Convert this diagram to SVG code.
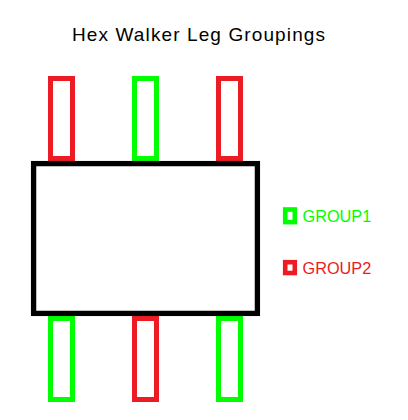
<svg xmlns="http://www.w3.org/2000/svg" width="408" height="420" viewBox="0 0 408 420">
<style>
.g{fill:none;stroke:#00FF00;stroke-width:5}
.r{fill:none;stroke:#ED1C24;stroke-width:5}
.body{fill:#fff;stroke:#000;stroke-width:5.3}
.t{font-family:"Liberation Sans",Arial,sans-serif}
</style>
<rect width="408" height="420" fill="#fff"/>
<text class="t" x="198.5" y="41" font-size="19" text-anchor="middle" fill="#000" textLength="253" lengthAdjust="spacing">Hex Walker Leg Groupings</text>
<g id="leg-top-left"><rect class="r" x="50.5" y="78.5" width="22" height="80"/></g>
<g id="leg-top-mid"><rect class="g" x="134.5" y="78.5" width="22" height="80"/></g>
<g id="leg-top-right"><rect class="r" x="218.5" y="78.5" width="22" height="80"/></g>
<g id="leg-bot-left"><rect class="g" x="50.5" y="318.5" width="22" height="81"/></g>
<g id="leg-bot-mid"><rect class="r" x="134.5" y="318.5" width="22" height="81"/></g>
<g id="leg-bot-right"><rect class="g" x="218.5" y="318.5" width="22" height="81"/></g>
<g id="body"><rect class="body" x="33.6" y="163.6" width="223.8" height="149.8"/></g>
<g id="legend-group1">
<rect x="285.2" y="209.5" width="9.6" height="12.6" fill="none" stroke="#00FF00" stroke-width="4.6"/>
<text class="t" x="302.5" y="222" font-size="16.3" fill="#00FF00">GROUP1</text>
</g>
<g id="legend-group2">
<rect x="285.2" y="262.2" width="9.6" height="10.8" fill="none" stroke="#ED1C24" stroke-width="4.6"/>
<text class="t" x="302.5" y="274" font-size="16.3" fill="#ED1C24">GROUP2</text>
</g>
<g id="connectors"/>
</svg>
